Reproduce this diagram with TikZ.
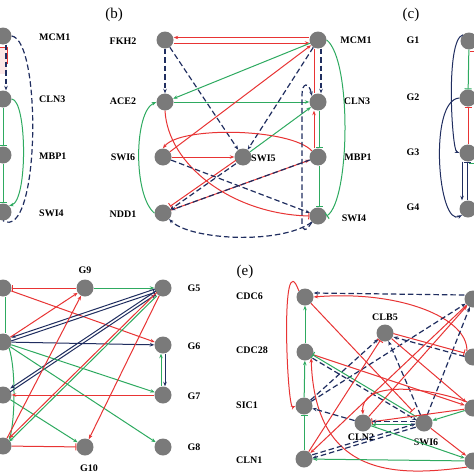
\documentclass[tikz,border=0pt]{standalone}
\usepackage{fontspec}
\setmainfont{Liberation Serif}
\usetikzlibrary{arrows.meta,calc}
\definecolor{nodegray}{RGB}{122,122,122}
\definecolor{myred}{RGB}{232,52,52}
\definecolor{mygreen}{RGB}{46,170,96}
\definecolor{mynavy}{RGB}{32,46,96}
\tikzset{
 gn/.style={circle, fill=nodegray, minimum size=17pt, inner sep=0pt},
 lb/.style={font=\fontsize{10}{11}\selectfont\bfseries, inner sep=0pt},
 pl/.style={font=\fontsize{15}{16}\selectfont, inner sep=0pt},
 re/.style={draw=myred, line width=1pt},
 ge/.style={draw=mygreen, line width=1pt},
 nv/.style={draw=mynavy, line width=1pt},
 de/.style={draw=mynavy, line width=1.2pt, dash pattern=on 5.5pt off 3pt},
 ar/.style={-{Stealth[length=4.5pt,width=3.5pt]}},
 tb/.style={-{Bar[width=7pt,line width=1pt]}},
 up/.style={transform canvas={yshift=1.7pt}},
 dn/.style={transform canvas={yshift=-1.7pt}},
 lf/.style={transform canvas={xshift=-2pt}},
 rt/.style={transform canvas={xshift=2pt}},
}
\begin{document}
\begin{tikzpicture}[x=1pt,y=-1pt]
\useasboundingbox (0,0) rectangle (474,474);
\fill[white] (0,0) rectangle (474,474);

% ---------------- panel (a)
\node[gn] (a1) at (3,36) {};
\node[gn] (a2) at (3,99) {};
\node[gn] (a3) at (3,155) {};
\node[gn] (a4) at (3,212) {};
\node[lb,anchor=west] (la1) at (39,37) {MCM1};
\node[lb,anchor=west] (la2) at (39,99) {CLN3};
\node[lb,anchor=west] (la3) at (39,156) {MBP1};
\node[lb,anchor=west] (la4) at (39,213) {SWI4};
\fill[myred!12] (0,47) rectangle (7,74);
\coordinate (aR1) at (0,47); \coordinate (aR2) at (7,47); \coordinate (aR3) at (7,64);
\draw[re] (aR1) -- (aR2) -- (aR3);
\draw[de,ar] ([xshift=3pt]a1.south) -- ([xshift=3pt]a2.north);
\draw[de] (a1.east) .. controls (42,40) and (40,242) .. (a4.south);
\draw[ge,ar] (a2.east) .. controls (27,100) and (28,200) .. (a4.north east);
\draw[ge,tb] (a2) -- (a3);
\draw[ge,tb] (a3) -- (a4);

% ---------------- panel (b)
\node[pl] (pb) at (114,15) {(b)};
\node[gn] (b1) at (165,40) {};
\node[gn] (b2) at (165,102) {};
\node[gn] (b3) at (163,157) {};
\node[gn] (b4) at (163,213) {};
\node[gn] (b5) at (243,157) {};
\node[gn] (b6) at (318,40) {};
\node[gn] (b7) at (318,102) {};
\node[gn] (b8) at (318,157) {};
\node[gn] (b9) at (318,216) {};
\node[lb] (lb1) at (123,41) {FKH2};
\node[lb] (lb2) at (123,101) {ACE2};
\node[lb] (lb3) at (123,157) {SWI6};
\node[lb] (lb4) at (123,214) {NDD1};
\node[lb,anchor=west] (lb5) at (251,158) {SWI5};
\node[lb] (lb6) at (356,40) {MCM1};
\node[lb] (lb7) at (357,101) {CLN3};
\node[lb] (lb8) at (358,157) {MBP1};
\node[lb] (lb9) at (354,218) {SWI4};

\draw[re,ar] ([yshift=2.5pt]b6.west) -- ([yshift=2.5pt]b1.east);
\draw[re,ar] ([yshift=-3pt]b1.east) -- ([yshift=-3pt]b6.west);
\draw[de,ar] (b1) -- (b2);
\draw[de,ar] (b1) -- (b5);
\draw[ge,ar] (b6) -- (b2);
\draw[ge,ar] (b2) -- (b7);
\draw[re,tb] (b2.south) .. controls (168,165) and (232,214) .. (b9.west);
\draw[re,ar] (b3) -- (b6);
\draw[ge,ar] (b4.west) .. controls (133,195) and (134,112) .. (b2.west);
\draw[de,ar] (b6) -- (b5);
\draw[de,ar] ([xshift=3pt]b6.south) -- ([xshift=3pt]b7.north);
\draw[re] ([xshift=-4pt]b6.south) -- ([xshift=-4pt]b7.north);
\draw[re,ar] ([xshift=-4pt]b8.north) -- ([xshift=-4pt]b7.south);
\draw[ge,tb] (b6.east) .. controls (352,60) and (350,200) .. (b9.east);
\draw[ge,tb] ([xshift=1pt]b7.south) -- ([xshift=1pt]b8.north);
\draw[ge,tb] ([xshift=1pt]b8.south) -- ([xshift=1pt]b9.north);
\draw[ge,ar] (b5) -- (b7);
\draw[re,ar] (b3) -- (b5);
\draw[re,ar] (b8.north west) .. controls (290,128) and (180,126) .. (b3.north);
\draw[re,tb,up] (b5) -- (b4);
\draw[de,ar,dn] (b5) -- (b4);
\draw[re,ar] (b4) -- (b8);
\draw[de,ar] (b3) -- (b9);
\draw[de,ar] (b8) -- (b4);
\draw[de,ar] (b9.south west) .. controls (280,245) and (190,240) .. (b4.south east);
\draw[de,ar] (b9.south west) .. controls (306,232) and (302,232) .. (302,222) -- (302,95) .. controls (302,82) and (309,82) .. (b7.north west);

% ---------------- panel (c)
\node[pl] (pc) at (411,15) {(c)};
\node[gn] (c1) at (469,41) {};
\node[gn] (c2) at (468,98) {};
\node[gn] (c3) at (468,153) {};
\node[gn] (c4) at (468,209) {};
\node[lb] (lc1) at (413,40) {G1};
\node[lb] (lc2) at (413,97) {G2};
\node[lb] (lc3) at (413,152) {G3};
\node[lb] (lc4) at (413,207) {G4};
\draw[ge,tb] (c1) -- (c2);
\draw[re,tb] (c3) -- (c2);
\coordinate (cR1) at (470,51); \coordinate (cR2) at (475,51);
\draw[re] (cR1) -- (cR2);
\draw[nv,ar] (c1.north west) .. controls (445,40) and (452,150) .. (c3.west);
\draw[nv,ar] (c2.west) .. controls (428,100) and (438,228) .. (c4.south west);
\draw[nv,ar] ([xshift=-6pt]c3.south) -- ([xshift=-6pt]c4.north);
\draw[nv,tb] ([xshift=-1pt]c4.north) -- ([xshift=-1pt]c3.south);
\coordinate (cG1) at (469,163); \coordinate (cG2) at (475,163);
\draw[ge] (cG1) -- (cG2);

% ---------------- panel (d)
\node[gn] (d1) at (3,288) {};
\node[gn] (d2) at (3,342) {};
\node[gn] (d3) at (3,395) {};
\node[gn] (d4) at (3,446) {};
\node[gn] (d9) at (85,288) {};
\node[gn] (d5) at (163,288) {};
\node[gn] (d6) at (163,345) {};
\node[gn] (d7) at (163,395) {};
\node[gn] (d8) at (163,447) {};
\node[gn] (d10) at (85,447) {};
\node[lb] (ld9) at (85,270) {G9};
\node[lb] (ld5) at (194,288) {G5};
\node[lb] (ld6) at (194,346) {G6};
\node[lb] (ld7) at (194,396) {G7};
\node[lb] (ld8) at (194,447) {G8};
\node[lb] (ld10) at (89,468) {G10};

\draw[re,tb] (d9) -- (d1);
\draw[ge,ar] (d9) -- (d5);
\draw[re,ar] (d1) -- (d6);
\draw[ge] ([xshift=2pt]d1.south) -- ([xshift=2pt]d2.north);
\draw[ge,ar] (d2.south east) .. controls (16,370) and (15,420) .. (d4.north east);
\draw[nv,ar,up] (d5) -- (d2);
\draw[nv,tb,dn] (d2) -- (d5);
\draw[nv,ar] (d2) -- (d6);
\draw[nv,ar,up] (d5) -- (d3);
\draw[nv,ar,dn] (d3) -- (d5);
\draw[ge,ar] (d2) -- (d7);
\draw[ge,ar] (d2) -- (d8);
\draw[re,ar] (d7) -- (d3);
\draw[ge,ar] (d3) -- (d10);
\draw[re,tb] (d4) -- (d10);
\draw[re,ar] (d5) -- (d10);
\draw[ge,ar,dn] (d5) -- (d4);
\draw[re,ar,up] (d5) -- (d4);
\draw[re,ar] (d4) -- (d9);
\draw[re,ar] (d2) -- (d9);
\draw[nv,ar,rt] (d6) -- (d7);
\draw[ge,ar,lf] (d7) -- (d6);

% ---------------- panel (e)
\node[pl] (pe) at (245,272) {(e)};
\node[gn] (e1) at (305,297) {};
\node[gn] (e2) at (305,352) {};
\node[gn] (e3) at (304,406) {};
\node[gn] (e4) at (304,459) {};
\node[gn] (e5) at (385,333) {};
\node[gn] (e6) at (363,423) {};
\node[gn] (e7) at (424,423) {};
\node[gn] (r1) at (473,299) {};
\node[gn] (r2) at (473,357) {};
\node[gn] (r3) at (473,408) {};
\node[gn] (r4) at (473,461) {};
\node[lb,anchor=west] (le1) at (236,296) {CDC6};
\node[lb,anchor=west] (le2) at (236,350) {CDC28};
\node[lb,anchor=west] (le3) at (236,405) {SIC1};
\node[lb,anchor=west] (le4) at (236,460) {CLN1};
\node[lb] (le5) at (385,317) {CLB5};
\node[lb] (le6) at (361,437) {CLN2};
\node[lb] (le7) at (426,442) {SWI6};

\draw[re,ar] (e1.north west) .. controls (280,240) and (287,410) .. (e3.west);
\draw[ge,ar] (e2) -- (e1);
\draw[ge,ar] (e3) -- (e2);
\draw[ge,tb] (e4) -- (e3);
\draw[de,ar] ([yshift=4pt]r1.west) -- ([yshift=4pt]e1.east);
\draw[re,ar] (r2.north west) .. controls (468,318) and (400,290) .. (e1.east);
\draw[re,tb,shorten >=8pt] (e1) -- (e7);
\draw[de,ar] (e3) -- (r1);
\draw[de,ar] (e3) -- (e5);
\draw[de,ar] (e7) -- (r1);
\draw[de,ar] (e7) -- (e5);
\draw[re,tb,up] (e5) -- (r2);
\draw[de,ar,dn] (r2) -- (e5);
\draw[re,ar] (e2) -- (r3);
\draw[ge,tb,up] (e7) -- (e2);
\draw[de,ar,dn] (e2) -- (e7);
\draw[re,tb] (e4) -- (e5);
\draw[re,ar] (r1) -- (e4);
\draw[re,ar] (e6) -- (r1);
\draw[re,ar] (r4.south west) .. controls (400,476) and (315,480) .. (e2.south east);
\draw[re,ar] (e5) -- (r3);
\draw[re,ar] (r3.north west) .. controls (420,385) and (360,382) .. (e6.north);
\draw[re,tb] (r3) -- (e6);
\draw[ge,ar] (r3) -- (e7);
\draw[de,ar,up] (e7) -- (e6);
\draw[ge,ar,dn] (e7) -- (e6);
\draw[de,ar,up] (e4) -- (e7);
\draw[de,ar,dn] (e7) -- (e4);
\draw[de,ar] (e6) -- (e3);
\draw[ge,ar] (e6) -- (r4);
\draw[ge,ar] (r4) -- (e4);
\draw[re,ar] (e7) -- (r4);
\end{tikzpicture}
\end{document}
